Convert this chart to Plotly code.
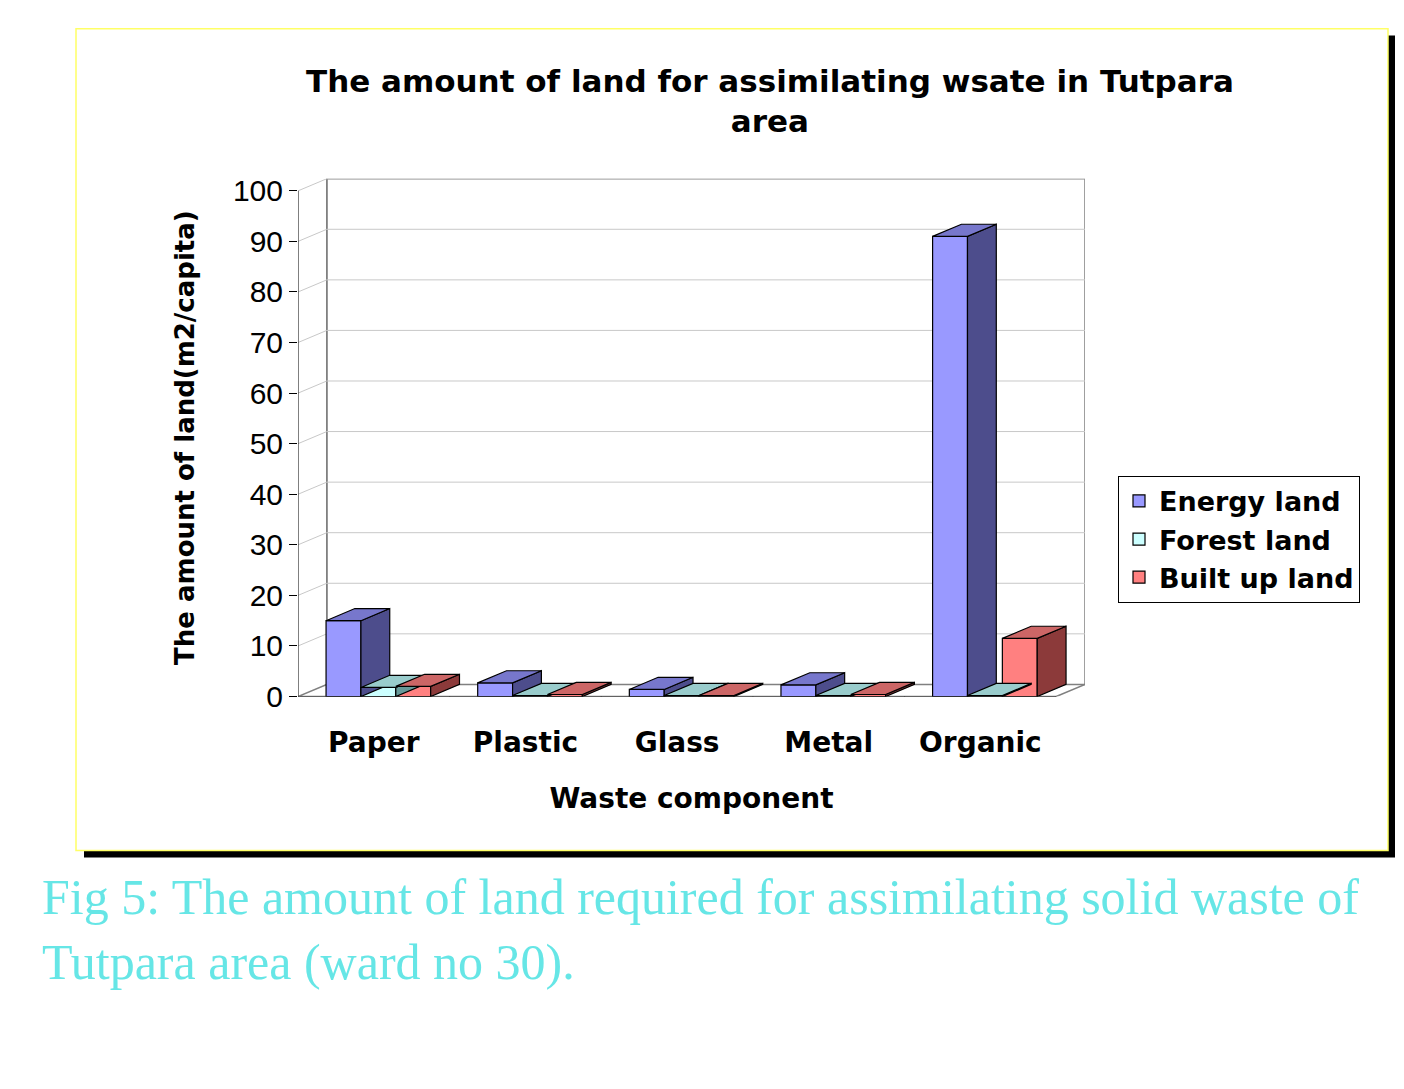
import plotly.graph_objects as go

categories = ["Paper", "Plastic", "Glass", "Metal", "Organic"]
energy_land = [15, 2.7, 1.4, 2.3, 91]
forest_land = [1.8, 0.2, 0.2, 0.2, 0.2]
built_up_land = [2, 0.4, 0.2, 0.4, 11.5]

series = [
    ("Energy land", energy_land, "#9999ff", "#4d4d8c", "#7777cc"),
    ("Forest land", forest_land, "#ccffff", "#669999", "#99cccc"),
    ("Built up land", built_up_land, "#ff8080", "#8c3a3a", "#cc6666"),
]

W, H = 1404, 1089
dx, dy = 0.19, 2.4      # depth offset in data units
bw = 0.23
offsets = [-0.2, 0.03, 0.26]
xc = [i + 0.5 for i in range(len(categories))]

fig = go.Figure()
shapes = []

# page frame with shadow
shapes.append(dict(type="rect", xref="paper", yref="paper", x0=76/W, x1=1387/W, y0=1-862/H, y1=1-24/H,
                   fillcolor="black", line=dict(width=0), layer="below"))
shapes.append(dict(type="rect", xref="paper", yref="paper", x0=68/W, x1=1380/W, y0=1-855/H, y1=1-17/H,
                   fillcolor="white", line=dict(color="#ffff66", width=1.5), layer="below"))

# back wall, floor, gridlines
shapes.append(dict(type="path", path=f"M {dx},{dy} L {dx},{100+dy} L {5+dx},{100+dy} L {5+dx},{dy} Z",
                   line=dict(color="#808080", width=1.5), layer="below"))
shapes.append(dict(type="path", path=f"M 0,0 L {dx},{dy} L {dx},{100+dy} M 0,0 L 5,0 L {5+dx},{dy}",
                   line=dict(color="#808080", width=1.5), layer="below"))
for v in range(10, 101, 10):
    shapes.append(dict(type="path", path=f"M 0,{v} L {dx},{v+dy} L {5+dx},{v+dy}",
                       line=dict(color="#c8c8c8", width=1), layer="below"))
shapes.append(dict(type="line", x0=0, x1=0, y0=0, y1=100, line=dict(color="black", width=1)))
shapes.append(dict(type="line", x0=0, x1=5, y0=0, y1=0, line=dict(color="black", width=1)))
for i in range(6):
    shapes.append(dict(type="line", x0=i, x1=i, y0=0, y1=-1.3, line=dict(color="black", width=1)))

for k, (name, vals, front, side, top) in enumerate(series):
    fig.add_trace(go.Bar(x=[c + offsets[k] for c in xc], y=vals, width=bw, name=f"<b>{name}</b>",
                         legendgroup=name,
                         marker=dict(color=front, line=dict(color="black", width=1.2))))
    for c, v in zip(xc, vals):
        x1 = c + offsets[k] - bw / 2
        x2 = x1 + bw
        shapes.append(dict(type="path", path=f"M {x2},0 L {x2+dx},{dy} L {x2+dx},{v+dy} L {x2},{v} Z",
                           fillcolor=side, line=dict(color="black", width=1.2)))
        shapes.append(dict(type="path", path=f"M {x1},{v} L {x1+dx},{v+dy} L {x2+dx},{v+dy} L {x2},{v} Z",
                           fillcolor=top, line=dict(color="black", width=1.2)))

font = "DejaVu Sans"
fig.update_layout(
    width=W, height=H, margin=dict(l=0, r=0, t=0, b=0),
    paper_bgcolor="white", plot_bgcolor="rgba(0,0,0,0)",
    barmode="overlay", showlegend=True, shapes=shapes,
    font=dict(family=font, color="black"),
    xaxis=dict(domain=[290/W, 1077/W], range=[0, 5 + dx], tickvals=xc, ticktext=[f"<b>{c}</b>" for c in categories],
               showgrid=False, zeroline=False, ticks="", tickfont=dict(size=28, family=font),
               ticklabelstandoff=26,
               title=dict(text="<b>Waste component</b>", font=dict(size=28, family=font), standoff=30)),
    yaxis=dict(domain=[1-698/H, 1-170/H], range=[0, 102.4], tickvals=list(range(0, 101, 10)),
               showgrid=False, zeroline=False, ticks="outside", ticklen=8, tickcolor="black",
               tickfont=dict(size=30, family="Liberation Sans"),
               title=dict(text="<b>The amount of land(m2/capita)</b>", font=dict(size=26, family=font), standoff=30)),
    legend=dict(x=1110/W, y=1-473/H, xanchor="left", yanchor="top", bordercolor="black", borderwidth=1,
                bgcolor="white", font=dict(size=27, family=font), tracegroupgap=32,
                traceorder="normal"),
)

fig.add_annotation(xref="paper", yref="paper", x=762/W, y=1-50/H, xanchor="center", yanchor="top",
                   showarrow=False,
                   text="<b>The amount of land for assimilating wsate in Tutpara</b><br><b>area</b>",
                   font=dict(size=31, family=font), align="center")
fig.add_annotation(xref="paper", yref="paper", x=32/W, y=1-872/H, xanchor="left", yanchor="top", align="left",
                   showarrow=False,
                   text="Fig 5: The amount of land required for assimilating solid waste of<br>Tutpara area (ward no 30).",
                   font=dict(family="Liberation Serif", size=50, color="#66e6e6"))

fig.write_html("out.html")
